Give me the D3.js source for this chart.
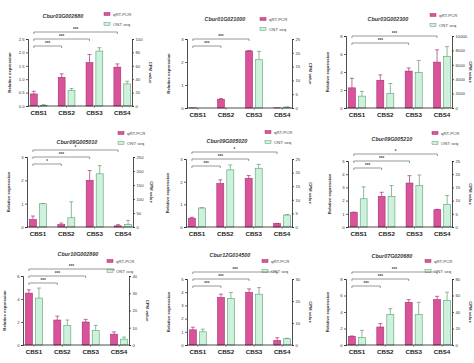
<!DOCTYPE html>
<html>
<head>
<meta charset="utf-8">
<script src="https://cdn.jsdelivr.net/npm/d3@7"></script>
<style>
  body { margin: 0; background: #fff; }
  svg { display: block; font-family: "Liberation Sans", Arial, sans-serif; }
</style>
</head>
<body>
<svg id="chart" width="474" height="363"></svg>
<script>
// data
const genes = ["Cbur03G002680", "Cbur01G021000", "Cbur03G002300",
               "Cbur09G005010", "Cbur09G005020", "Cbur09G005210",
               "Cbur10G002890", "Cbur12G014500", "Cbur07G020680"];
const categories = ["CBS1", "CBS2", "CBS3", "CBS4"];
const seriesNames = ["qRT-PCR", "ONT seq"];

const qpcrMean = [[0.45, 1.07, 1.62, 1.45], [0.01, 0.38, 2.48, 0.01], [2.24, 3.08, 4.1, 5.1],
                  [0.32, 0.1, 2.0, 0.05], [0.39, 1.92, 2.15, 0.15], [1.09, 2.32, 3.33, 1.31],
                  [4.51, 2.17, 2.0, 0.94], [1.15, 3.6, 3.98, 0.35], [1.05, 2.18, 5.17, 5.5]];
const qpcrErr  = [[0.1, 0.13, 0.3, 0.12], [0, 0.03, 0.02, 0], [1.06, 0.6, 0.35, 1.36],
                  [0.15, 0.07, 0.42, 0.05], [0.04, 0.16, 0.12, 0.01], [0.04, 0.31, 0.56, 0.03],
                  [0.29, 0.34, 0.23, 0.2], [0.2, 0.25, 0.27, 0.2], [0.05, 0.42, 0.33, 0.4]];
const ontMean  = [[1, 23, 82, 33], [0, 0, 17.5, 0.3], [1650, 2020, 4950, 7150],
                  [83, 33, 190, 9.5], [7, 21, 21.6, 4.4], [10.7, 11.6, 15.7, 8.6],
                  [27.2, 11.4, 8.4, 3.4], [6, 21.1, 23.1, 2.85], [8.9, 37.2, 37.2, 54]];
const ontErr   = [[1, 3, 5, 4], [0, 0, 3, 0.1], [650, 1380, 1650, 1380],
                  [1, 57, 29, 14], [0.1, 1.8, 1.4, 0.2], [4.5, 4.1, 4, 3.3],
                  [5.8, 3.1, 3, 1.2], [1.2, 2.8, 3, 0.2], [8.9, 6.8, 14.5, 10]];

const leftTicks  = [[0, 0.5, 1, 1.5, 2, 2.5], [0, 1, 2, 3], [0, 2, 4, 6, 8],
                    [0, 1, 2, 3], [0, 1, 2, 3], [0, 1, 2, 3, 4, 5],
                    [0, 2, 4, 6], [0, 1, 2, 3, 4, 5], [0, 2, 4, 6, 8]];
const rightTicks = [[0, 20, 40, 60, 80, 100], [0, 5, 10, 15, 20, 25], [0, 2000, 4000, 6000, 8000, 10000],
                    [0, 50, 100, 150, 200, 250], [0, 5, 10, 15, 20, 25], [0, 5, 10, 15, 20, 25],
                    [0, 10, 20, 30, 40], [0, 10, 20, 30], [0, 20, 40, 60, 80]];

// significance vs CBS1
const sigMarks = [[["CBS2", "***"], ["CBS3", "***"], ["CBS4", "***"]],
                  [["CBS2", "***"], ["CBS3", "***"]],
                  [["CBS3", "***"], ["CBS4", "***"]],
                  [["CBS2", "*"], ["CBS3", "***"], ["CBS4", "*"]],
                  [["CBS2", "***"], ["CBS3", "***"], ["CBS4", "*"]],
                  [["CBS2", "***"], ["CBS3", "***"], ["CBS4", "*"]],
                  [["CBS2", "***"], ["CBS3", "***"], ["CBS4", "***"]],
                  [["CBS2", "***"], ["CBS3", "***"], ["CBS4", "***"]],
                  [["CBS2", "***"], ["CBS3", "***"], ["CBS4", "***"]]];

// layout of each panel (pixels)
const boxes = [
  {l: 28,  r: 132, t: 39,  b: 106, tx: 63,  ty: 18,  lx: 104, ly: 14},
  {l: 187, r: 292, t: 39,  b: 108, tx: 225, ty: 21,  lx: 260, ly: 19},
  {l: 346, r: 452, t: 36,  b: 108, tx: 388, ty: 21,  lx: 430, ly: 15},
  {l: 27,  r: 133, t: 157, b: 227, tx: 77,  ty: 144, lx: 118, ly: 133},
  {l: 186, r: 292, t: 159, b: 227, tx: 227, ty: 143, lx: 265, ly: 132},
  {l: 348, r: 452, t: 161, b: 227, tx: 392, ty: 141, lx: 432, ly: 133},
  {l: 23,  r: 129, t: 276, b: 345, tx: 78,  ty: 256, lx: 107, ly: 261},
  {l: 187, r: 292, t: 279, b: 345, tx: 230, ty: 257, lx: 262, ly: 261},
  {l: 346, r: 452, t: 279, b: 345, tx: 392, ty: 258, lx: 425, ly: 261}
];

const pink = "#d9539a", pinkDark = "#a8306a";
const green = "#cdf2dc", greenDark = "#5f9c76";

const svg = d3.select("#chart");
svg.append("rect").attr("width", 474).attr("height", 363).attr("fill", "#fff");

boxes.forEach((bx, i) => {
  const g = svg.append("g");

  const x = d3.scaleBand().domain(categories).range([bx.l + 1, bx.r])
    .paddingInner(0.4).paddingOuter(0.05);
  const xs = d3.scaleBand().domain(seriesNames).range([0, x.bandwidth()]).paddingInner(0.3);
  const lt = leftTicks[i], rt = rightTicks[i];
  const yL = d3.scaleLinear().domain([0, lt[lt.length - 1]]).range([bx.b, bx.t]);
  const yR = d3.scaleLinear().domain([0, rt[rt.length - 1]]).range([bx.b, bx.t]);

  const fmtL = lt.some(v => v % 1 !== 0) ? d3.format(".1f") : d3.format("d");

  // bars
  const rows = categories.map((c, j) => ({
    c,
    q: qpcrMean[i][j], qe: qpcrErr[i][j],
    o: ontMean[i][j], oe: ontErr[i][j]
  }));

  const bars = [];
  rows.forEach(d => {
    bars.push({c: d.c, s: seriesNames[0], v: d.q, e: d.qe, y: yL, fill: pink, stroke: pinkDark});
    bars.push({c: d.c, s: seriesNames[1], v: d.o, e: d.oe, y: yR, fill: green, stroke: greenDark});
  });

  const bg = g.append("g");
  bg.selectAll("rect").data(bars).join("rect")
    .attr("x", d => x(d.c) + xs(d.s))
    .attr("width", xs.bandwidth())
    .attr("y", d => d.y(d.v))
    .attr("height", d => Math.max(0, bx.b - d.y(d.v)))
    .attr("fill", d => d.fill)
    .attr("stroke", d => d.stroke)
    .attr("stroke-width", 0.6);

  // error bars
  const eg = g.append("g").attr("stroke-width", 0.7);
  bars.filter(d => d.e > 0).forEach(d => {
    const cx = x(d.c) + xs(d.s) + xs.bandwidth() / 2;
    eg.append("line").attr("x1", cx).attr("x2", cx)
      .attr("y1", d.y(d.v)).attr("y2", d.y(d.v + d.e)).attr("stroke", d.stroke);
    eg.append("line").attr("x1", cx - 2).attr("x2", cx + 2)
      .attr("y1", d.y(d.v + d.e)).attr("y2", d.y(d.v + d.e)).attr("stroke", d.stroke);
  });

  // axes
  const axL = g.append("g").attr("transform", `translate(${bx.l},0)`)
    .call(d3.axisLeft(yL).tickValues(lt).tickFormat(fmtL).tickSize(2).tickPadding(1.5));
  const axR = g.append("g").attr("transform", `translate(${bx.r},0)`)
    .call(d3.axisRight(yR).tickValues(rt).tickFormat(d3.format("d")).tickSize(2).tickPadding(1.5));
  const axB = g.append("g").attr("transform", `translate(0,${bx.b})`)
    .call(d3.axisBottom(x).tickSize(1.5).tickFormat(""));
  axB.select(".domain").attr("d", `M${bx.l},0H${bx.r}`);
  [axL, axR, axB].forEach(a => {
    a.selectAll(".domain").attr("stroke", "#222").attr("stroke-width", 0.8);
    a.selectAll(".tick line").attr("stroke", "#222").attr("stroke-width", 0.7);
    a.selectAll("text").attr("font-size", 4.2).attr("fill", "#333");
  });

  // category labels
  g.append("g").selectAll("text").data(categories).join("text")
    .attr("x", d => x(d) + x.bandwidth() / 2)
    .attr("y", bx.b + 9)
    .attr("text-anchor", "middle")
    .attr("font-size", 6.2)
    .attr("font-weight", "bold")
    .attr("fill", "#222")
    .text(d => d);

  // axis titles
  g.append("text")
    .attr("transform", `translate(${bx.l - 17},${(bx.t + bx.b) / 2}) rotate(-90)`)
    .attr("text-anchor", "middle").attr("font-size", 4.3).attr("font-weight", "bold")
    .attr("fill", "#333").text("Relative expression");
  g.append("text")
    .attr("transform", `translate(${bx.r + 17},${(bx.t + bx.b) / 2}) rotate(90)`)
    .attr("text-anchor", "middle").attr("font-size", 4.3).attr("font-weight", "bold")
    .attr("fill", "#333").text("CPM value");

  // title
  g.append("text")
    .attr("x", bx.tx).attr("y", bx.ty)
    .attr("text-anchor", "middle").attr("font-size", 5.4)
    .attr("font-weight", "bold").attr("font-style", "italic")
    .attr("fill", "#333").text(genes[i]);

  // legend
  const lg = g.append("g").attr("transform", `translate(${bx.lx},${bx.ly})`);
  lg.append("rect").attr("x", 0).attr("y", -1.5).attr("width", 6).attr("height", 3)
    .attr("fill", pink).attr("stroke", pinkDark).attr("stroke-width", 0.5);
  lg.append("rect").attr("x", 0).attr("y", 8.5).attr("width", 6).attr("height", 3)
    .attr("fill", green).attr("stroke", greenDark).attr("stroke-width", 0.5);
  lg.selectAll("text").data(seriesNames).join("text")
    .attr("x", 9).attr("y", (d, k) => k * 10 + 1.6)
    .attr("font-size", 4.3).attr("fill", "#444").text(d => d);

  // significance brackets
  const x0 = x(categories[0]) + xs(seriesNames[0]) + xs.bandwidth() / 2;
  const sg = g.append("g");
  sigMarks[i].forEach(([c, lab], k) => {
    const x1 = x(c) + xs(seriesNames[0]) + xs.bandwidth() / 2;
    const yy = bx.t + 7 - k * 7;
    sg.append("path")
      .attr("d", `M${x0},${yy + 2}V${yy}H${x1}V${yy + 2}`)
      .attr("fill", "none").attr("stroke", "#555").attr("stroke-width", 0.6);
    sg.append("text")
      .attr("x", (x0 + x1) / 2).attr("y", yy - 0.6)
      .attr("text-anchor", "middle").attr("font-size", 4.5).attr("font-weight", "bold")
      .attr("fill", "#444").text(lab);
  });
});
</script>
</body>
</html>
